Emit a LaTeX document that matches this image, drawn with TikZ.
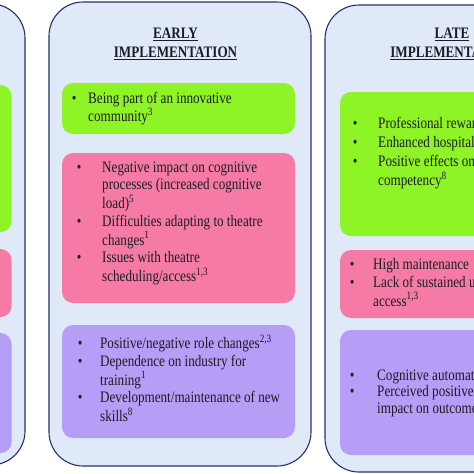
\documentclass[tikz,border=0pt]{standalone}
\usepackage{fontspec}
\setmainfont{Liberation Serif}
\usepackage{graphicx}

\definecolor{panelfill}{HTML}{DFE9F8}
\definecolor{panelline}{HTML}{26316B}
\definecolor{limebox}{HTML}{8FF425}
\definecolor{pinkbox}{HTML}{F57BA6}
\definecolor{lilacbox}{HTML}{B69DF5}
\definecolor{ink}{HTML}{1C1C24}

% bullet list, squeezed sideways like the reference
\newcommand{\bullets}[2]{\scalebox{0.82}[1]{\begin{tabular}{@{}p{#1}@{}l@{}}#2\end{tabular}}}
\newcommand{\heading}[2]{\scalebox{0.82}[1]{\begin{tabular}{@{}c@{}}\underline{#1}\\\underline{#2}\end{tabular}}}

\begin{document}
\begin{tikzpicture}
  [
    x=1pt, y=-1pt,
    panel/.style={draw=panelline, fill=panelfill, line width=1.1pt, rounded corners=34pt, minimum width=262pt, inner sep=0pt},
    card/.style={rounded corners=11pt, minimum width=233pt, inner sep=0pt},
    txt/.style={anchor=west, inner sep=0pt, text=ink, font=\fontsize{16}{17.5}\selectfont},
    ttl/.style={inner sep=0pt, text=ink, font=\bfseries\fontsize{16}{19}\selectfont}
  ]
    \useasboundingbox (0,0) rectangle (474,474);
    \clip (0,0) rectangle (474,474);

    % =========================================================================
    % PANELS
    % =========================================================================
    \node [panel, minimum height=461pt] (pre) at (-106,234.5) {};
    \node [panel, minimum height=464pt] (early) at (180,234) {};
    \node [panel, minimum height=467pt] (late) at (456,238.5) {};

    % --- LEFT (cut off) ---
    \node [card, fill=limebox, minimum height=147pt] (pregreen) at (-105,158.5) {};
    \node [card, fill=pinkbox, minimum height=68pt] (prepink) at (-105,283) {};
    \node [card, fill=lilacbox, minimum height=120pt] (prelilac) at (-105,393) {};

    % --- EARLY ---
    \node [ttl] (earlytitle) at (175.5,44.5) {\heading{EARLY}{IMPLEMENTATION}};
    \node [card, fill=limebox, minimum height=51pt] (earlygreen) at (178.5,108.5) {};
    \node [card, fill=pinkbox, minimum height=150pt] (earlypink) at (178.5,228) {};
    \node [card, fill=lilacbox, minimum height=113pt] (earlylilac) at (178.5,381.5) {};

    \node [txt] (earlygreentxt) at (71.7,109) {\bullets{19.9pt}{%
      \textbullet & Being part of an innovative\\
                  & community\textsuperscript{3}}};
    \node [txt] (earlypinktxt) at (76.7,223.5) {\bullets{30.9pt}{%
      \textbullet & Negative impact on cognitive\\
                  & processes (increased cognitive\\
                  & load)\textsuperscript{5}\\
      \textbullet & Difficulties adapting to theatre\\
                  & changes\textsuperscript{1}\\
      \textbullet & Issues with theatre\\
                  & scheduling/access\textsuperscript{1,3}}};
    \node [txt] (earlylilactxt) at (77.7,381) {\bullets{27.2pt}{%
      \textbullet & Positive/negative role changes\textsuperscript{2,3}\\
      \textbullet & Dependence on industry for\\
                  & training\textsuperscript{1}\\
      \textbullet & Development/maintenance of new\\
                  & skills\textsuperscript{8}}};

    % --- LATE ---
    \node [ttl] (latetitle) at (452,44.5) {\heading{LATE}{IMPLEMENTATION}};
    \node [card, fill=limebox, minimum height=144pt] (lategreen) at (456.5,164) {};
    \node [card, fill=pinkbox, minimum height=68pt] (latepink) at (456.5,284) {};
    \node [card, fill=lilacbox, minimum height=125pt] (latelilac) at (456.5,392.5) {};

    \node [txt, font=\fontsize{16}{19}\selectfont] (lategreentxt) at (352.7,153) {\bullets{30.9pt}{%
      \textbullet & Professional rewards\\
      \textbullet & Enhanced hospital\\
      \textbullet & Positive effects on\\
                  & competency\textsuperscript{8}}};
    \node [txt] (latepinktxt) at (349.7,284.5) {\bullets{28.4pt}{%
      \textbullet & High maintenance\\
      \textbullet & Lack of sustained use\\
                  & access\textsuperscript{1,3}}};
    \node [txt, font=\fontsize{16}{16.8}\selectfont] (latelilactxt) at (349.7,393.5) {\bullets{33.3pt}{%
      \textbullet & Cognitive automation\\
      \textbullet & Perceived positive/negative\\
                  & impact on outcomes}};

  \end{tikzpicture}
\end{document}
